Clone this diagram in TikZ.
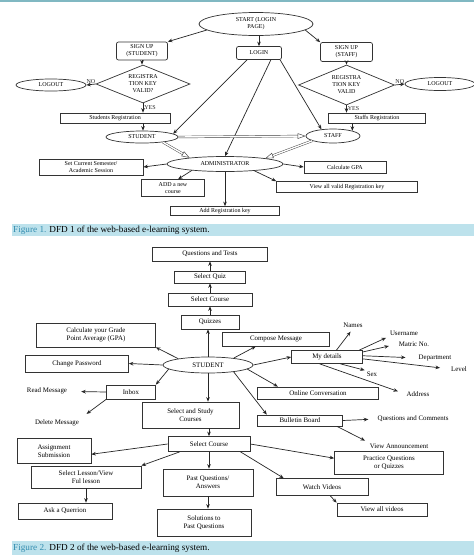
\documentclass[tikz,border=0pt]{standalone}
\usepackage{fontspec}
\setmainfont{Liberation Serif}
\usepackage{tikz}
\usetikzlibrary{arrows.meta,shapes.geometric,backgrounds,calc}
\definecolor{capbar}{RGB}{189,226,236}
\definecolor{capfig}{RGB}{50,140,175}
\definecolor{topline}{RGB}{128,184,194}
\tikzset{
  box/.style={draw=black!80,line width=0.7pt,inner sep=1pt,align=center,font=\fontsize{6}{7}\selectfont},
  sz/.style 2 args={minimum width=#1pt,minimum height=#2pt},
  rbox/.style={box,rounded corners=2pt},
  oval/.style={box,ellipse},
  dec/.style={box,diamond,aspect=2.5,inner sep=0pt},
  lbl/.style={inner sep=1pt,font=\fontsize{6}{7}\selectfont},
  arr/.style={-{Stealth[length=4.5pt,width=3.6pt]},line width=0.7pt,black!85},
  hol/.style={double=white,double distance=1.4pt,line width=0.45pt,black!75,-{Triangle[open,length=8pt,width=5.5pt]}},
  capt/.style={anchor=west,inner sep=0pt,font=\fontsize{9.2}{11}\selectfont}
}
\begin{document}
\begin{tikzpicture}[x=1pt,y=-1pt]
\useasboundingbox (0,0) rectangle (474,555);
\fill[white] (0,0) rectangle (474,555);
\fill[topline] (0,0) rectangle (474,2);

\node[oval,sz={114}{23}] (start) at (256,24) {START (LOGIN\\PAGE)};
\node[rbox,sz={51}{18}] (sus) at (142,51) {SIGN UP\\(STUDENT)};
\node[rbox,sz={45}{13}] (login) at (259,53) {LOGIN};
\node[rbox,sz={52}{19}] (sst) at (346.5,52) {SIGN UP\\(STAFF)};
\node[dec,sz={94}{38}] (dl) at (143,84) {REGISTRA\\TION KEY\\VALID?};
\node[dec,sz={96}{40}] (dr) at (346.5,85) {REGISTRA\\TION KEY\\VALID};
\node[oval,sz={70}{12}] (lol) at (51,85) {LOGOUT};
\node[oval,sz={70}{13}] (lor) at (440,84) {LOGOUT};
\node[box,sz={110}{10}] (sreg) at (115,118) {Students Registration};
\node[box,sz={97}{10}] (streg) at (377,118) {Staffs Registration};
\node[oval,sz={72}{12}] (stu1) at (142,137) {STUDENT};
\node[oval,sz={54}{14}] (stf) at (333,136) {STAFF};
\node[oval,sz={116}{15}] (adm) at (225,164) {ADMINISTRATOR};
\node[box,sz={104}{16}] (setc) at (91,167) {Set Current Semester/\\Academic Session};
\node[box,sz={82}{12}] (cgpa) at (345,167) {Calculate GPA};
\node[box,sz={63}{17}] (addc) at (173,188) {ADD a new\\course};
\node[box,sz={141}{11}] (vreg) at (347,187) {View all valid Registration key};
\node[box,sz={109}{9}] (addk) at (225,211) {Add Registration key};

\draw[arr] (start.-173) -- (sus.north east);
\draw[arr] (login.north |- start.south) -- (login.north);
\draw[arr] (start.-7) -- (sst.north west);
\draw[arr] (sus.south) -- (sus.south |- dl.north);
\draw[arr] (dl.west) -- node[lbl,above]{NO} (lol.east);
\draw[arr] (dl.south) -- node[lbl,right]{YES} (dl.south |- sreg.north);
\draw[arr] (dl.south |- sreg.south) -- (dl.south |- stu1.north);
\draw[arr] (login.-150) -- (stu1.6);
\draw[arr] (login.-30) -- (adm.north);
\draw[arr] (login.-18) -- (stf.150);
\draw[arr] (sst.south) -- (dr.north);
\draw[arr] (dr.east) -- node[lbl,above]{NO} (lor.west);
\draw[arr] (dr.south) -- node[lbl,right]{YES} (dr.south |- streg.north);
\draw[arr] (stf.north east |- streg.south) -- (stf.north east);
\draw[hol] (stu1.east) -- (stf.west);
\draw[hol] (stu1.-14) -- (adm.170);
\draw[hol] (stf.-167) -- (adm.8);
\draw[arr] (adm.west) -- (setc.east);
\draw[arr] (adm.-169) -- (addc.60);
\draw[arr] (adm.south) -- (addk.north);
\draw[arr] (adm.east) -- (cgpa.west);
\draw[arr] (adm.-13) -- (vreg.north west);

\fill[capbar] (12,224) rectangle (474,236);
\node[capt] (cap1) at (13,230) {\textcolor{capfig}{Figure 1.} DFD 1 of the web-based e-learning system.};

\begin{scope}[box/.append style={font=\fontsize{6.9}{8}\selectfont},lbl/.append style={font=\fontsize{6.9}{8}\selectfont}]
\node[box,sz={115}{14}] (qtests) at (210,254) {Questions and Tests};
\node[box,sz={71}{12}] (selq) at (210,277) {Select Quiz};
\node[box,sz={84}{13}] (selc1) at (210,299.5) {Select Course};
\node[box,sz={58}{14}] (quiz) at (210,322) {Quizzes};
\node[box,sz={119}{24}] (gpa) at (96,335) {Calculate your Grade\\Point Average (GPA)};
\node[box,sz={107}{14}] (comp) at (276,339) {Compose Message};
\node[box,sz={71}{13}] (mydet) at (327,357) {My details};
\node[oval,sz={90}{16}] (stu2) at (208,365) {STUDENT};
\node[box,sz={103}{17}] (chpw) at (77,363.5) {Change Password};
\node[box,sz={49}{14}] (inbox) at (131,392) {Inbox};
\node[lbl] (readm) at (47,391) {Read Message};
\node[lbl] (delm) at (57,423) {Delete Message};
\node[box,sz={121}{12}] (online) at (318,393) {Online Conversation};
\node[box,sz={97}{26}] (study) at (190.5,415) {Select and Study\\Courses};
\node[box,sz={85}{11}] (bull) at (300,420.5) {Bulletin Board};
\node[lbl] (names) at (353,325) {Names};
\node[lbl] (user) at (404,333) {Username};
\node[lbl] (matric) at (414,344) {Matric No.};
\node[lbl] (dept) at (435,358) {Department};
\node[lbl] (level) at (459,369) {Level};
\node[lbl] (sex) at (372,374) {Sex};
\node[lbl] (addr) at (418,394) {Address};
\node[lbl] (qcom) at (413,419) {Questions and Comments};
\node[lbl] (vann) at (399,446) {View Announcement};
\node[box,sz={82}{15}] (selc2) at (209,444) {Select Course};
\node[box,sz={74}{25}] (assign) at (54,451) {Assignment\\Submission};
\node[box,sz={110}{22}] (lesson) at (86,477) {Select Lesson/View\\Ful lesson};
\node[box,sz={90}{27}] (pastq) at (208,482.5) {Past Questions/\\Answers};
\node[box,sz={92}{17}] (watch) at (322,487) {Watch Videos};
\node[box,sz={109}{23}] (prac) at (389,463) {Practice Questions\\or Quizzes};
\node[box,sz={90}{13}] (vvid) at (382,509.5) {View all videos};
\node[box,sz={94}{16}] (ask) at (65,511) {Ask a Querrion};
\node[box,sz={94}{27}] (sol) at (204,522.5) {Solutions to\\Past Questions};
\end{scope}

\draw[arr] (quiz) -- (selc1);
\draw[arr] (selc1) -- (selq);
\draw[arr] (selq) -- (qtests);
\draw[arr] (stu2.north) -- (stu2.north |- quiz.south);
\draw[arr] (stu2.168) -- (gpa.south east);
\draw[arr] (stu2.west) -- (chpw.east);
\draw[arr] (stu2.-174) -- (inbox.north east);
\draw[arr] (stu2.south) -- (stu2.south |- study.north);
\draw[arr] (stu2.15) -- (comp.-160);
\draw[arr] (stu2.east) -- (mydet.west);
\draw[arr] (stu2.-6) -- (online.171);
\draw[arr] (stu2.-15) -- (bull.170);
\draw[arr,shorten >=13pt] (inbox.west) -- (readm);
\draw[arr,shorten >=8pt] (inbox.south west) -- (delm.north east);
\draw[arr,shorten >=4pt] (mydet.36) -- (names.south);
\draw[arr,shorten >=3pt] (mydet.12) -- (user.south west);
\draw[arr,shorten >=9pt] (mydet.8) -- (matric.west);
\draw[arr,shorten >=12pt] (mydet.2) -- (dept.west);
\draw[arr,shorten >=10pt] (mydet.-3) -- (level.west);
\draw[arr,shorten >=1pt] (mydet.-27) -- (sex.north west);
\draw[arr,shorten >=8pt] (mydet.-137) -- (addr.west);
\draw[arr,shorten >=8pt] (bull.east) -- (qcom.west);
\draw[arr,shorten >=4pt] (bull.-9) -- (vann.north west);
\draw[arr] (selc2.north |- study.south) -- (selc2.north);
\draw[arr] (selc2.west) -- (assign.-5);
\draw[arr] (selc2.-165) -- (lesson.north east);
\draw[arr] (selc2.south) -- (selc2.south |- pastq.north);
\draw[arr] (selc2.-14) -- (watch.167);
\draw[arr] (selc2.east) -- (prac.175);
\draw[arr] (lesson.south) -- (lesson.south |- ask.north);
\draw[arr] (pastq.south) -- (pastq.south |- sol.north);
\draw[arr] (watch.-47) -- (vvid.north west);

\fill[capbar] (12,541) rectangle (474,555);
\node[capt] (cap2) at (13,548) {\textcolor{capfig}{Figure 2.} DFD 2 of the web-based e-learning system.};
\end{tikzpicture}
\end{document}
